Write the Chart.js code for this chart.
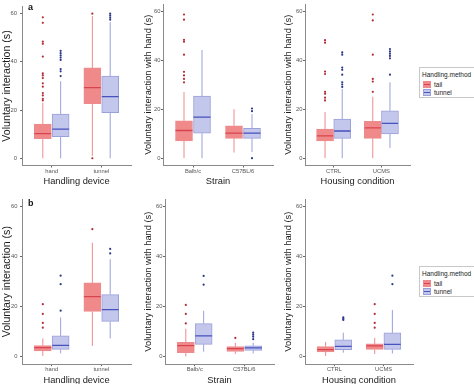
<!DOCTYPE html>
<html>
<head>
<meta charset="utf-8">
<script src="https://cdn.jsdelivr.net/npm/chart.js@4.4.0/dist/chart.umd.min.js"></script>
<style>
html, body { margin: 0; padding: 0; background: #fff; width: 474px; height: 384px; overflow: hidden; }
.panel { position: absolute; }
.tag { position: absolute; font: bold 9px "Liberation Sans", Arial, sans-serif; color: #111; line-height: 9px; }
.legend { position: absolute; width: 56px; height: 31px; box-sizing: border-box; border: 1px solid #c8c8c8;
  padding: 2px 0 0 2px; font-family: "Liberation Sans", Arial, sans-serif; font-size: 6.5px; color: #222; background: #fff; }
.legend .ttl { line-height: 9px; height: 9px; margin-bottom: 1px; white-space: nowrap; }
.legend .item { display: flex; align-items: center; height: 8.5px; margin-left: 1px; }
.legend .key { position: relative; width: 6px; height: 5px; border: 1px solid; margin-right: 3px; }
.legend .key span { position: absolute; left: 0; right: 0; top: 2px; height: 1px; }
</style>
</head>
<body>
<div class="tag" style="left:28px;top:3px">a</div>
<div class="tag" style="left:28px;top:199px">b</div>
<div class="legend" id="legendA" style="left:419px;top:67px"></div>
<div class="legend" id="legendB" style="left:419px;top:266px"></div>
<script>
const family = '"Liberation Sans", Arial, sans-serif';

const seriesNames = ['tail', 'tunnel'];
const yTicks = [0, 20, 40, 60];
const deviceCats = ['hand', 'tunnel'];
const strainCats = ['Balb/c', 'C57BL/6'];
const housingCats = ['CTRL', 'UCMS'];

// box stats per category: [lower whisker, Q1, median, Q3, upper whisker]
// row a
const aDeviceTail = [[0, 8.1, 10.2, 14.2, 23], [1, 22.7, 29.3, 37.5, 59]];
const aDeviceTailOut = [[24, 24.7, 26.1, 27.1, 29.7, 31.1, 33.3, 34.4, 35.2, 42.2, 47.5, 48.4, 56.2, 58.5], [0, 60]];
const aDeviceTunnel = [[0, 9, 12.1, 18.3, 32], [0, 18.9, 25.6, 34.1, 56.5]];
const aDeviceTunnelOut = [[34.1, 36.1, 37, 40.8, 41.8, 42.7, 43.6, 44.6], [57.5, 58.3, 59.2, 60]];

const aStrainTail = [[0, 7.0, 11.3, 15.3, 27], [2.3, 8.1, 10.2, 13.2, 20]];
const aStrainTailOut = [[31, 32.4, 33.8, 35.3, 42.3, 47.6, 48.4, 56.6, 58.7], []];
const aStrainTunnel = [[0, 10.2, 16.8, 25.4, 44.2], [2.5, 8.1, 10.2, 12.2, 18]];
const aStrainTunnelOut = [[], [0, 19.2, 20.3]];

const aHousingTail = [[0, 7.0, 9.1, 11.9, 18.9], [0, 8.1, 12.4, 15.0, 25.1]];
const aHousingTailOut = [[23.6, 24.7, 26.3, 27.1, 34.4, 35.4, 47.2, 48.2], [27.1, 31.3, 32.4, 42.3, 56.3, 58.7]];
const aHousingTunnel = [[0, 8.1, 11.1, 16, 28.3], [4.2, 9.9, 14.2, 19.3, 31]];
const aHousingTunnelOut = [[29.1, 30.1, 31, 34.1, 36.1, 37, 42.3, 43.2], [34.1, 40.8, 41.8, 42.7, 43.6, 44.6]];

// row b
const bDeviceTail = [[0.3, 2.3, 3.6, 4.4, 7.3], [4.3, 18.1, 24, 29.5, 45.6]];
const bDeviceTailOut = [[11.6, 13.5, 17.1, 21], [51]];
const bDeviceTunnel = [[1.3, 2.9, 4.5, 8.3, 15.7], [7.3, 14.1, 18.8, 24.8, 39]];
const bDeviceTunnelOut = [[18.4, 29, 32.4], [41.3, 43.1]];

const bStrainTail = [[0.1, 1.6, 4.4, 5.7, 11.2], [1.1, 2.1, 3.2, 4, 5.6]];
const bStrainTailOut = [[13.3, 17.1, 20.7], [7.5]];
const bStrainTunnel = [[2, 4.9, 8.3, 13.2, 18.4], [1.3, 2.5, 3.5, 4.3, 5.6]];
const bStrainTunnelOut = [[28.8, 32.3], [7, 8, 8.8, 9.6]];

const bHousingTail = [[0.3, 1.9, 2.8, 4, 5.9], [1.1, 2.9, 4.3, 5.1, 7.5]];
const bHousingTailOut = [[], [11.6, 13.5, 17.1, 21]];
const bHousingTunnel = [[1.6, 2.8, 4.1, 6.7, 9.6], [1.3, 2.9, 4.9, 9.5, 18.7]];
const bHousingTunnelOut = [[14.7, 15.2, 15.7], [29, 32.4]];

const colors = {
  tail: { fill: '#f08a8a', line: '#ec8a8d', median: '#d9434d', dot: '#b32c36' },
  tunnel: { fill: '#c3c7ec', line: '#9aa1da', median: '#4652bd', dot: '#2e398c' }
};

const rows = [
  { top: 0, h: 190, padTop: 1.5, xH: 24.5 },
  { top: 190, h: 199, padTop: 9.2, xH: 24.8 }
];

const yTitle1 = 'Voluntary interaction (s)';
const yTitle2 = 'Voluntary interaction with hand (s)';

const panels = [
  { row: 0, axis: 22, right: 133, cats: deviceCats, xTitle: 'Handling device', yTitle: yTitle1, yTitleSize: 10.6, yTitleC: 7, tickPad: 3,
    tail: aDeviceTail, tailOut: aDeviceTailOut, tunnel: aDeviceTunnel, tunnelOut: aDeviceTunnelOut },
  { row: 0, axis: 163, right: 275, cats: strainCats, xTitle: 'Strain', yTitle: yTitle2, yTitleSize: 9.3, yTitleC: 148.7, tickPad: 0.5,
    tail: aStrainTail, tailOut: aStrainTailOut, tunnel: aStrainTunnel, tunnelOut: aStrainTunnelOut },
  { row: 0, axis: 305, right: 412, cats: housingCats, xTitle: 'Housing condition', yTitle: yTitle2, yTitleSize: 9.3, yTitleC: 287, tickPad: 0.5,
    tail: aHousingTail, tailOut: aHousingTailOut, tunnel: aHousingTunnel, tunnelOut: aHousingTunnelOut, legend: 'legendA' },
  { row: 1, axis: 22, right: 133, cats: deviceCats, xTitle: 'Handling device', yTitle: yTitle1, yTitleSize: 10.6, yTitleC: 7, tickPad: 2.5,
    tail: bDeviceTail, tailOut: bDeviceTailOut, tunnel: bDeviceTunnel, tunnelOut: bDeviceTunnelOut },
  { row: 1, axis: 165, right: 276, cats: strainCats, xTitle: 'Strain', yTitle: yTitle2, yTitleSize: 9.3, yTitleC: 148.8, tickPad: 0.5,
    tail: bStrainTail, tailOut: bStrainTailOut, tunnel: bStrainTunnel, tunnelOut: bStrainTunnelOut },
  { row: 1, axis: 305, right: 415, cats: housingCats, xTitle: 'Housing condition', yTitle: yTitle2, yTitleSize: 9.3, yTitleC: 287, tickPad: 0.5,
    tail: bHousingTail, tailOut: bHousingTailOut, tunnel: bHousingTunnel, tunnelOut: bHousingTunnelOut, legend: 'legendB' }
];

// box (floating bar), whiskers, median and outliers for one series
function boxDatasets(stats, outs, name, shift) {
  const col = colors[name];
  const box = [], whisk = [], med = [], pts = [];
  stats.forEach((s, i) => {
    const x = i + 1 + shift;
    box.push({ x: x, y: [s[1], s[3]] });
    whisk.push({ x: x, y: s[0] }, { x: x, y: s[1] }, { x: x, y: null }, { x: x, y: s[3] }, { x: x, y: s[4] }, { x: x, y: null });
    med.push({ x: x - 0.17, y: s[2] }, { x: x + 0.17, y: s[2] }, { x: x, y: null });
    outs[i].forEach(v => pts.push({ x: x, y: v }));
  });
  return [
    { type: 'bar', label: name, data: box, backgroundColor: col.fill, borderColor: col.line, borderWidth: 1,
      borderSkipped: false, barThickness: 17, grouped: false, order: 2 },
    { type: 'line', label: name + ' whiskers', data: whisk, borderColor: col.line, borderWidth: 1,
      pointRadius: 0, spanGaps: false, order: 3 },
    { type: 'line', label: name + ' median', data: med, borderColor: col.median, borderWidth: 1.3,
      pointRadius: 0, spanGaps: false, order: 1 },
    { type: 'line', label: name + ' outliers', data: pts, showLine: false, pointRadius: 1.1,
      pointBackgroundColor: col.dot, pointBorderWidth: 0, order: 0 }
  ];
}

// legend in html, built from the chart's own legend items
const htmlLegend = {
  id: 'htmlLegend',
  afterUpdate(chart, args, opts) {
    const box = document.getElementById(opts.containerID);
    if (!box) return;
    box.innerHTML = '';
    const ttl = document.createElement('div');
    ttl.className = 'ttl';
    ttl.textContent = 'Handling.method';
    box.appendChild(ttl);
    const items = Chart.defaults.plugins.legend.labels.generateLabels(chart)
      .filter(it => seriesNames.includes(it.text));
    items.forEach(it => {
      const row = document.createElement('div');
      row.className = 'item';
      const key = document.createElement('div');
      key.className = 'key';
      key.style.background = it.fillStyle;
      key.style.borderColor = it.strokeStyle;
      const line = document.createElement('span');
      line.style.background = colors[it.text].median;
      key.appendChild(line);
      const txt = document.createElement('div');
      txt.textContent = it.text;
      row.appendChild(key);
      row.appendChild(txt);
      box.appendChild(row);
    });
  }
};

panels.forEach(p => {
  const row = rows[p.row];
  const left = p.axis - 22;
  const w = p.right - left + 2;
  const wrap = document.createElement('div');
  wrap.className = 'panel';
  wrap.style.left = left + 'px';
  wrap.style.top = row.top + 'px';
  const cv = document.createElement('canvas');
  cv.width = w;
  cv.height = row.h;
  cv.style.width = w + 'px';
  cv.style.height = row.h + 'px';
  wrap.appendChild(cv);
  document.body.insertBefore(wrap, document.body.firstChild);

  const datasets = boxDatasets(p.tail, p.tailOut, 'tail', -0.18)
    .concat(boxDatasets(p.tunnel, p.tunnelOut, 'tunnel', 0.18));

  const yTitlePad = Math.max(0, p.yTitleC - left - p.yTitleSize * 0.6);

  new Chart(cv, {
    type: 'bar',
    data: { datasets: datasets },
    options: {
      responsive: false,
      animation: false,
      events: [],
      layout: { padding: { top: row.padTop, right: 2, bottom: 0, left: 0 } },
      plugins: {
        legend: { display: false },
        tooltip: { enabled: false },
        htmlLegend: { containerID: p.legend }
      },
      scales: {
        x: {
          type: 'linear', min: 0.4, max: 2.6, offset: false,
          afterBuildTicks: s => { s.ticks = p.cats.map((c, i) => ({ value: i + 1 })); },
          afterFit: s => { s.height = row.xH; },
          ticks: { callback: v => p.cats[v - 1], font: { size: 5.8, family: family }, color: '#555',
                   padding: 0, autoSkip: false, maxRotation: 0 },
          grid: { display: true, drawOnChartArea: false, drawTicks: true, tickLength: 2, color: '#666', offset: false },
          border: { display: true, color: '#8a8a8a', width: 1 },
          title: { display: true, text: p.xTitle, color: '#1a1a1a', font: { size: 9.3, family: family },
                   padding: { top: 0, bottom: 3.4 } }
        },
        y: {
          type: 'linear', min: -3, max: 63,
          afterBuildTicks: s => { s.ticks = yTicks.map(v => ({ value: v })); },
          afterFit: s => { s.width = 22; },
          ticks: { font: { size: 5.8, family: family }, color: '#555', padding: p.tickPad },
          grid: { display: true, drawOnChartArea: false, drawTicks: true, tickLength: 2, color: '#666' },
          border: { display: true, color: '#8a8a8a', width: 1 },
          title: { display: true, text: p.yTitle, color: '#1a1a1a', font: { size: p.yTitleSize, family: family },
                   padding: { top: yTitlePad, bottom: 0 } }
        }
      }
    },
    plugins: p.legend ? [htmlLegend] : []
  });
});
</script>
</body>
</html>
